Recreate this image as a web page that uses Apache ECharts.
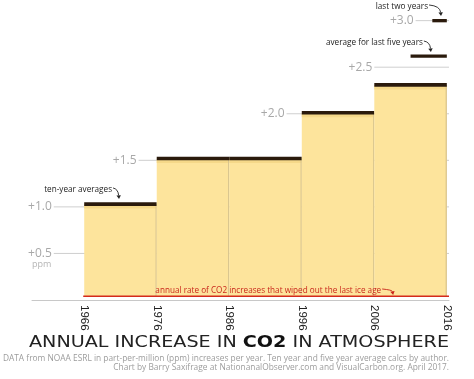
<!DOCTYPE html>
<html><head><meta charset="utf-8">
<script src="https://cdn.jsdelivr.net/npm/echarts@6/dist/echarts.min.js"></script>
<style>html,body{margin:0;padding:0;background:#fff}#c{width:474px;height:379px}</style>
</head><body><div id="c"></div>
<script>
// ---- data ----
const years = [1966, 1976, 1986, 1996, 2006, 2016];
const xTickLabels = ['1966', '1976', '1986', '1996', '2006', '2016'];
const tenYearAvg = [1.03, 1.52, 1.52, 2.01, 2.31];
const fiveYearPeriod = [2011, 2016];
const fiveYearAvg = 2.62;
const twoYearPeriod = [2014, 2016];
const twoYearAvg = 3.00;
const iceAgeRate = 0.04;
const yTickValues = [0.5, 1.0, 1.5, 2.0, 2.5, 3.0];
const yTickLabels = ['+0.5', '+1.0', '+1.5', '+2.0', '+2.5', '+3.0'];

// ---- layout / style ----
const SANS = "'Open Sans', sans-serif";
const gridFrom = [1961.8, 1961.8, 1973.5, 1993.9, 2006.0, 2011.7];
const xEnd = 2016.3;
const annotations = [
  {text: 'ten-year averages', tip: [1970.8, 1.085], dx: -6, dy: -11, color: '#222'},
  {text: 'average for last five years', tip: [2013.8, 2.663], dx: -7, dy: -11, color: '#222'},
  {text: 'last two years', tip: [2015.2, 3.05], dx: -12, dy: -11, color: '#222'},
  {text: 'annual rate of CO2 increases that wiped out the last ice age', tip: [2008.6, 0.054], dx: -11, dy: -6, color: '#c9261b'}
];

const barData = tenYearAvg.map((v, i) => [years[i], years[i + 1], v]);
const recentData = [[fiveYearPeriod[0], fiveYearPeriod[1], fiveYearAvg], [twoYearPeriod[0], twoYearPeriod[1], twoYearAvg]];

function barItem(params, api) {
  const s = api.value(0), e = api.value(1), v = api.value(2);
  const tl = api.coord([s, v]);
  const br = api.coord([e, iceAgeRate]);
  const x = tl[0], w = br[0] - tl[0], y = tl[1], h = br[1] - tl[1];
  return {type: 'group', children: [
    {type: 'rect', shape: {x: x, y: y, width: w, height: h}, style: {fill: '#fde49c'}},
    {type: 'rect', shape: {x: x, y: y + 1.5, width: w, height: 3}, style: {fill: '#f5d889'}},
    {type: 'rect', shape: {x: x + w - 1.2, y: y, width: 1.2, height: h}, style: {fill: '#d8c48f'}},
    {type: 'rect', shape: {x: x, y: y - 1.8, width: w, height: 3.6}, style: {fill: '#2a1a0c'}}
  ]};
}
function recentItem(params, api) {
  const a = api.coord([api.value(0), api.value(2)]);
  const b = api.coord([api.value(1), api.value(2)]);
  return {type: 'rect', shape: {x: a[0], y: a[1] - 1.6, width: b[0] - a[0], height: 3.3}, style: {fill: '#2a1a0c'}};
}
function gridItem(params, api) {
  const i = params.dataIndex;
  const v = api.value(0);
  const a = api.coord([gridFrom[i], v]);
  const b = api.coord([xEnd, v]);
  const ch = [
    {type: 'line', shape: {x1: a[0], y1: a[1], x2: b[0], y2: b[1]}, style: {stroke: '#cfcfcf', lineWidth: 1}},
    {type: 'text', x: a[0] - 2, y: a[1], style: {text: yTickLabels[i], fill: '#a8a8a8', font: "12px " + SANS, align: 'right', verticalAlign: 'middle'}}
  ];
  if (i === 0) ch.push({type: 'text', x: a[0] - 12, y: a[1] + 11, style: {text: 'ppm', fill: '#b5b5b5', font: "9px " + SANS, align: 'center', verticalAlign: 'middle'}});
  return {type: 'group', children: ch};
}
function iceItem(params, api) {
  const a = api.coord([years[0], iceAgeRate]);
  const b = api.coord([xEnd, iceAgeRate]);
  return {type: 'line', shape: {x1: a[0] - 1, y1: a[1], x2: b[0], y2: b[1]}, style: {stroke: '#d42a1c', lineWidth: 1.4}};
}
function annItem(params, api) {
  const an = annotations[params.dataIndex];
  const t = api.coord(an.tip);
  const s = [t[0] + an.dx, t[1] + an.dy];
  const cp = [t[0] - 1, s[1] + 1];
  const ang = Math.atan2(t[1] - cp[1], t[0] - cp[0]);
  const L = 3.6, W = 2.2;
  const bx = t[0] - L * Math.cos(ang), by = t[1] - L * Math.sin(ang);
  const px = -Math.sin(ang) * W, py = Math.cos(ang) * W;
  return {type: 'group', children: [
    {type: 'text', x: s[0] - 1, y: s[1] + 1, scaleX: 0.86, style: {text: an.text, fill: an.color, font: "9.5px " + SANS, align: 'right', verticalAlign: 'middle'}},
    {type: 'bezierCurve', shape: {x1: s[0], y1: s[1], x2: bx, y2: by, cpx1: cp[0], cpy1: cp[1]}, style: {stroke: an.color, lineWidth: 0.9, fill: null}},
    {type: 'polygon', shape: {points: [[t[0], t[1]], [bx + px, by + py], [bx - px, by - py]]}, style: {fill: an.color}}
  ]};
}

const chart = echarts.init(document.getElementById('c'), null, {renderer: 'canvas'});
chart.setOption({
  animation: false,
  backgroundColor: '#fff',
  grid: {left: 32, right: 25, top: 2, bottom: 79},
  xAxis: {
    type: 'value', min: 1958.8, max: xEnd,
    axisLine: {show: true, lineStyle: {color: '#c8c8c8', width: 1}},
    axisTick: {show: false}, splitLine: {show: false},
    axisLabel: {
      customValues: years, rotate: -90, margin: 5,
      formatter: (v) => xTickLabels[years.indexOf(Math.round(v))] || '',
      color: '#222', fontSize: 11.5, fontFamily: "'Liberation Sans', sans-serif"
    }
  },
  yAxis: {type: 'value', min: 0, max: 3.2, show: false, splitLine: {show: false}},
  graphic: [
    {type: 'group', x: 449, y: 351, scaleX: 1.16, silent: true, children: [
      {type: 'text', x: 0, y: 0,
        style: {text: 'ANNUAL INCREASE IN {b|CO2} IN ATMOSPHERE', align: 'right', verticalAlign: 'bottom',
          font: "16.5px 'DejaVu Sans', sans-serif", fill: '#222',
          rich: {b: {font: "bold 16.5px 'DejaVu Sans', sans-serif", fill: '#111'}}}}
    ]},
    {type: 'text', x: 449, y: 358.5, scaleX: 0.88, silent: true,
      style: {text: 'DATA from NOAA ESRL in part-per-million (ppm) increases per year. Ten year and five year average calcs by author.',
        align: 'right', verticalAlign: 'middle', font: "9.5px " + SANS, fill: '#9c9c9c'}},
    {type: 'text', x: 449, y: 367, scaleX: 0.88, silent: true,
      style: {text: 'Chart by Barry Saxifrage at NationanalObserver.com and VisualCarbon.org. April 2017.',
        align: 'right', verticalAlign: 'middle', font: "9.5px " + SANS, fill: '#9c9c9c'}}
  ],
  series: [
    {type: 'custom', name: 'grid', data: yTickValues.map(v => [v]), renderItem: gridItem, z: 1, silent: true},
    {type: 'custom', name: 'ten-year averages', data: barData, renderItem: barItem, z: 2, encode: {x: [0, 1], y: 2}},
    {type: 'custom', name: 'recent averages', data: recentData, renderItem: recentItem, z: 3, encode: {x: [0, 1], y: 2}},
    {type: 'custom', name: 'ice age rate', data: [[iceAgeRate]], renderItem: iceItem, z: 4, silent: true},
    {type: 'custom', name: 'notes', data: annotations.map((a, i) => [i]), renderItem: annItem, z: 5, silent: true}
  ]
});
</script></body></html>
